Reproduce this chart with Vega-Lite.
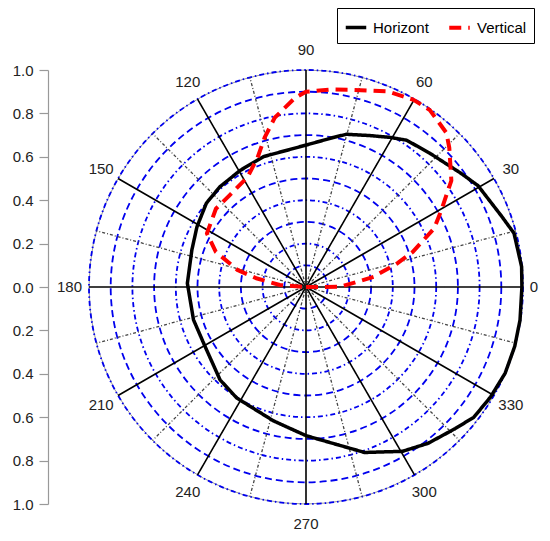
{
  "$schema": "https://vega.github.io/schema/vega-lite/v6.json",
  "width": 434,
  "height": 434,
  "autosize": "none",
  "padding": {"left": 89, "top": 70, "right": 27, "bottom": 37},
  "background": "white",
  "config": {"view": {"stroke": null}, "font": "Liberation Sans"},
  "datasets": {
    "rings": [
      {"r": 0.1}, {"r": 0.2}, {"r": 0.3}, {"r": 0.4}, {"r": 0.5},
      {"r": 0.6}, {"r": 0.7}, {"r": 0.8}, {"r": 0.9}, {"r": 1.0}
    ],
    "spokes": [
      {"angle": 0}, {"angle": 15}, {"angle": 30}, {"angle": 45}, {"angle": 60}, {"angle": 75},
      {"angle": 90}, {"angle": 105}, {"angle": 120}, {"angle": 135}, {"angle": 150}, {"angle": 165},
      {"angle": 180}, {"angle": 195}, {"angle": 210}, {"angle": 225}, {"angle": 240}, {"angle": 255},
      {"angle": 270}, {"angle": 285}, {"angle": 300}, {"angle": 315}, {"angle": 330}, {"angle": 345}
    ],
    "labels": [
      {"angle": 0}, {"angle": 30}, {"angle": 60}, {"angle": 90}, {"angle": 120}, {"angle": 150},
      {"angle": 180}, {"angle": 210}, {"angle": 240}, {"angle": 270}, {"angle": 300}, {"angle": 330}
    ],
    "curves": [
      {"series": "Horizont", "angle": 0, "r": 0.995},
      {"series": "Horizont", "angle": 5.4, "r": 0.998},
      {"series": "Horizont", "angle": 14.5, "r": 0.99},
      {"series": "Horizont", "angle": 20, "r": 0.958},
      {"series": "Horizont", "angle": 30.5, "r": 0.92},
      {"series": "Horizont", "angle": 36.4, "r": 0.885},
      {"series": "Horizont", "angle": 47.2, "r": 0.84},
      {"series": "Horizont", "angle": 55.6, "r": 0.82},
      {"series": "Horizont", "angle": 60.8, "r": 0.79},
      {"series": "Horizont", "angle": 67.2, "r": 0.757},
      {"series": "Horizont", "angle": 75.2, "r": 0.728},
      {"series": "Horizont", "angle": 79.7, "r": 0.7},
      {"series": "Horizont", "angle": 90, "r": 0.654},
      {"series": "Horizont", "angle": 108, "r": 0.632},
      {"series": "Horizont", "angle": 119.4, "r": 0.617},
      {"series": "Horizont", "angle": 130.6, "r": 0.609},
      {"series": "Horizont", "angle": 139.9, "r": 0.6},
      {"series": "Horizont", "angle": 151.1, "r": 0.574},
      {"series": "Horizont", "angle": 162, "r": 0.553},
      {"series": "Horizont", "angle": 178.2, "r": 0.547},
      {"series": "Horizont", "angle": 196.3, "r": 0.54},
      {"series": "Horizont", "angle": 210.6, "r": 0.54},
      {"series": "Horizont", "angle": 227.2, "r": 0.583},
      {"series": "Horizont", "angle": 238.1, "r": 0.603},
      {"series": "Horizont", "angle": 256.4, "r": 0.635},
      {"series": "Horizont", "angle": 270, "r": 0.685},
      {"series": "Horizont", "angle": 289.5, "r": 0.809},
      {"series": "Horizont", "angle": 300.4, "r": 0.878},
      {"series": "Horizont", "angle": 308, "r": 0.914},
      {"series": "Horizont", "angle": 316.5, "r": 0.948},
      {"series": "Horizont", "angle": 322.2, "r": 0.979},
      {"series": "Horizont", "angle": 329.2, "r": 0.99},
      {"series": "Horizont", "angle": 336.6, "r": 1.0},
      {"series": "Horizont", "angle": 344.1, "r": 1.0},
      {"series": "Horizont", "angle": 351.2, "r": 0.998},
      {"series": "Horizont", "angle": 360, "r": 0.995},
      {"series": "Vertical", "angle": 0, "r": 0},
      {"series": "Vertical", "angle": 0, "r": 0.079},
      {"series": "Vertical", "angle": 0.5, "r": 0.158},
      {"series": "Vertical", "angle": 5.8, "r": 0.237},
      {"series": "Vertical", "angle": 8.6, "r": 0.315},
      {"series": "Vertical", "angle": 14.6, "r": 0.436},
      {"series": "Vertical", "angle": 18.2, "r": 0.518},
      {"series": "Vertical", "angle": 24.6, "r": 0.65},
      {"series": "Vertical", "angle": 29.5, "r": 0.716},
      {"series": "Vertical", "angle": 34.2, "r": 0.791},
      {"series": "Vertical", "angle": 36.2, "r": 0.83},
      {"series": "Vertical", "angle": 44.2, "r": 0.921},
      {"series": "Vertical", "angle": 47.7, "r": 0.961},
      {"series": "Vertical", "angle": 55, "r": 0.995},
      {"series": "Vertical", "angle": 60.1, "r": 0.995},
      {"series": "Vertical", "angle": 67.4, "r": 0.977},
      {"series": "Vertical", "angle": 77.3, "r": 0.932},
      {"series": "Vertical", "angle": 82.2, "r": 0.919},
      {"series": "Vertical", "angle": 90, "r": 0.9},
      {"series": "Vertical", "angle": 93.4, "r": 0.872},
      {"series": "Vertical", "angle": 100.5, "r": 0.793},
      {"series": "Vertical", "angle": 105.5, "r": 0.714},
      {"series": "Vertical", "angle": 110.5, "r": 0.637},
      {"series": "Vertical", "angle": 118.1, "r": 0.573},
      {"series": "Vertical", "angle": 130, "r": 0.55},
      {"series": "Vertical", "angle": 139, "r": 0.55},
      {"series": "Vertical", "angle": 151.6, "r": 0.519},
      {"series": "Vertical", "angle": 158.7, "r": 0.446},
      {"series": "Vertical", "angle": 166, "r": 0.326},
      {"series": "Vertical", "angle": 170, "r": 0.233},
      {"series": "Vertical", "angle": 175.7, "r": 0.121},
      {"series": "Vertical", "angle": 180, "r": 0}
    ]
  },
  "layer": [
    {
      "data": {"values": [{"r": 1.0}]},
      "transform": [{"calculate": "0", "as": "cx"}],
      "mark": {"type": "point", "shape": "circle", "filled": false, "opacity": 1},
      "encoding": {
        "x": {"field": "cx", "type": "quantitative", "scale": {"domain": [-1, 1], "nice": false}, "axis": null},
        "y": {
          "field": "cx", "type": "quantitative", "title": null,
          "scale": {"domain": [-1, 1], "nice": false},
          "axis": {
            "orient": "left",
            "offset": 41,
            "grid": false,
            "values": [-1, -0.9, -0.8, -0.7, -0.6, -0.5, -0.4, -0.3, -0.2, -0.1, 0, 0.1, 0.2, 0.3, 0.4, 0.5, 0.6, 0.7, 0.8, 0.9, 1],
            "labelExpr": "abs(round(datum.value * 10)) % 2 == 0 ? format(abs(datum.value), '.1f') : ''",
            "domainColor": "#999999",
            "domainWidth": 1.2,
            "tickColor": "#999999",
            "tickWidth": 1.2,
            "tickSize": {"condition": {"test": "abs(round(datum.value * 10)) % 2 == 0", "value": 9}, "value": 5},
            "labelFont": "Liberation Sans",
            "labelFontSize": 15,
            "labelColor": "#222222",
            "labelPadding": 6
          }
        },
        "size": {"field": "r", "type": "quantitative", "legend": null, "scale": {"type": "pow", "exponent": 2, "domain": [0, 1], "range": [0, 188356]}},
        "stroke": {"value": "#999999"},
        "strokeWidth": {"value": 1}
      }
    },
    {
      "data": {"name": "rings"},
      "transform": [{"calculate": "0", "as": "cx"}],
      "mark": {"type": "point", "shape": "circle", "filled": false, "opacity": 1},
      "encoding": {
        "x": {"field": "cx", "type": "quantitative", "scale": {"domain": [-1, 1], "nice": false}, "axis": null},
        "y": {"field": "cx", "type": "quantitative", "title": null, "scale": {"domain": [-1, 1], "nice": false}},
        "size": {"field": "r", "type": "quantitative", "legend": null, "scale": {"type": "pow", "exponent": 2, "domain": [0, 1], "range": [0, 188356]}},
        "stroke": {"value": "#0000ee"},
        "strokeWidth": {"value": 1.8},
        "strokeDash": {"condition": {"test": "round(datum.r * 10) % 2 == 0", "value": [5, 3, 1.5, 3]}, "value": [7, 4]}
      }
    },
    {
      "data": {"name": "spokes"},
      "transform": [
        {"calculate": "0", "as": "cx"},
        {"calculate": "cos(datum.angle * PI / 180)", "as": "ex"},
        {"calculate": "sin(datum.angle * PI / 180)", "as": "ey"}
      ],
      "mark": {"type": "rule"},
      "encoding": {
        "x": {"field": "cx", "type": "quantitative", "scale": {"domain": [-1, 1], "nice": false}, "axis": null},
        "y": {"field": "cx", "type": "quantitative", "title": null, "scale": {"domain": [-1, 1], "nice": false}},
        "x2": {"field": "ex"},
        "y2": {"field": "ey"},
        "color": {"condition": {"test": "datum.angle % 30 == 0", "value": "#000000"}, "value": "#444444"},
        "strokeDash": {"condition": {"test": "datum.angle % 30 == 0", "value": [1, 0]}, "value": [3, 2, 1, 2]},
        "strokeWidth": {"condition": {"test": "datum.angle % 30 == 0", "value": 1.6}, "value": 1.3}
      }
    },
    {
      "data": {"name": "curves"},
      "transform": [
        {"window": [{"op": "row_number", "as": "idx"}]},
        {"calculate": "datum.r * cos(datum.angle * PI / 180)", "as": "x"},
        {"calculate": "datum.r * sin(datum.angle * PI / 180)", "as": "y"}
      ],
      "mark": {"type": "line", "strokeJoin": "round"},
      "encoding": {
        "x": {"field": "x", "type": "quantitative", "scale": {"domain": [-1, 1], "nice": false}, "axis": null},
        "y": {"field": "y", "type": "quantitative", "title": null, "scale": {"domain": [-1, 1], "nice": false}},
        "color": {
          "field": "series", "type": "nominal",
          "scale": {"domain": ["Horizont", "Vertical"], "range": ["#000000", "#ff0000"]},
          "legend": {
            "title": null,
            "orient": "none",
            "legendX": 248,
            "legendY": -62,
            "direction": "horizontal",
            "symbolType": "stroke",
            "symbolSize": 420,
            "symbolStrokeWidth": 3,
            "labelFont": "Liberation Sans",
            "labelFontSize": 15,
            "labelColor": "#000000",
            "labelOffset": 5,
            "columnPadding": 12,
            "padding": 7,
            "strokeColor": "#000000"
          }
        },
        "strokeDash": {
          "field": "series", "type": "nominal",
          "scale": {"domain": ["Horizont", "Vertical"], "range": [[1, 0], [12, 7]]}
        },
        "strokeWidth": {
          "field": "series", "type": "nominal",
          "scale": {"domain": ["Horizont", "Vertical"], "range": [3.5, 4]},
          "legend": null
        },
        "order": {"field": "idx", "type": "quantitative"}
      }
    },
    {
      "data": {"name": "labels"},
      "transform": [
        {"calculate": "datum.angle == 0 ? 1.05 : 1.09", "as": "lr"},
        {"calculate": "datum.lr * cos(datum.angle * PI / 180)", "as": "lx"},
        {"calculate": "datum.lr * sin(datum.angle * PI / 180)", "as": "ly"}
      ],
      "mark": {"type": "text", "align": "center", "baseline": "middle", "fontSize": 15, "color": "#222222", "font": "Liberation Sans"},
      "encoding": {
        "x": {"field": "lx", "type": "quantitative", "scale": {"domain": [-1, 1], "nice": false}, "axis": null},
        "y": {"field": "ly", "type": "quantitative", "title": null, "scale": {"domain": [-1, 1], "nice": false}},
        "text": {"field": "angle", "type": "nominal"}
      }
    }
  ]
}
